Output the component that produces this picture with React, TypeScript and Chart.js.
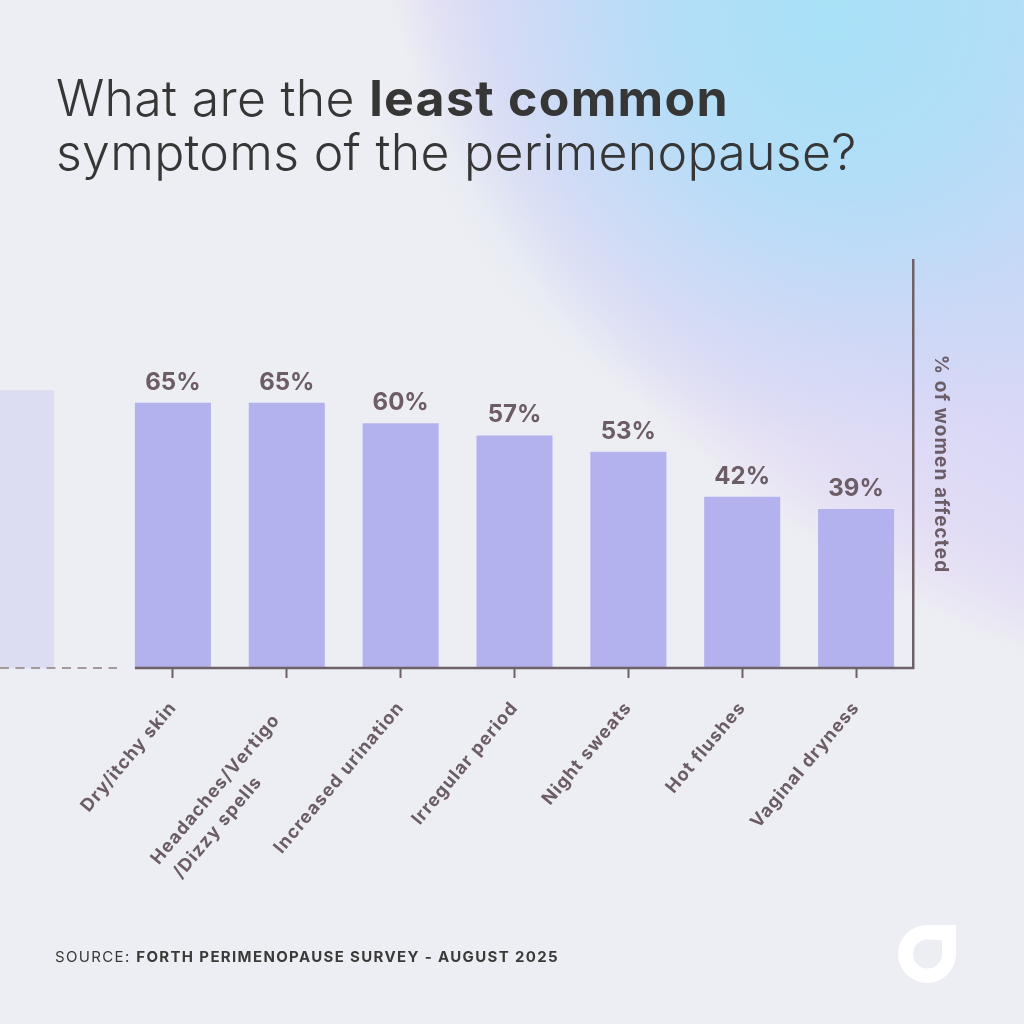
import React, { useEffect, useRef } from "react";
import { Chart, registerables } from "chart.js";

Chart.register(...registerables);

// ---- data ----
const categories: (string | string[])[] = [
  "Dry/itchy skin",
  ["Headaches/Vertigo   ", "/Dizzy spells              "],
  "Increased urination",
  "Irregular period",
  "Night sweats",
  "Hot flushes",
  "Vaginal dryness",
];
const values = [65, 65, 60, 57, 53, 42, 39];
const valueLabels = ["65%", "65%", "60%", "57%", "53%", "42%", "39%"];
// bar from the previous slide, partly visible at the left edge (position in category units)
const previousBarPosition = [-1.38];
const previousBarValue = [68];
const yMin = 0;
const yMax = 100;
const axisTitle = "% of women affected";

const TEXT = "#6b5c65";
const AXIS = "#6e6268";
const FONT = "Inter, 'Open Sans', sans-serif";

const spacingPlugin = {
  id: "spacing",
  beforeDraw(chart: any) {
    (chart.ctx as any).letterSpacing = "1.1px";
  },
};

const decorPlugin = {
  id: "decor",
  afterDatasetsDraw(chart: any) {
    const ctx = chart.ctx;
    const { chartArea } = chart;
    const y0 = chart.scales.y.getPixelForValue(0);
    const meta = chart.getDatasetMeta(0);
    const first = meta.data[0];
    ctx.save();
    (ctx as any).letterSpacing = "0px";
    // solid baseline
    ctx.strokeStyle = AXIS;
    ctx.lineWidth = 2.5;
    ctx.beginPath();
    ctx.moveTo(first.x - first.width / 2, y0);
    ctx.lineTo(chartArea.right + 1, y0);
    ctx.stroke();
    // dashed continuation to the left
    ctx.strokeStyle = "#a39aa0";
    ctx.lineWidth = 2;
    ctx.setLineDash([9, 6.5]);
    ctx.beginPath();
    ctx.moveTo(0, y0);
    ctx.lineTo(chartArea.left + 1, y0);
    ctx.stroke();
    ctx.setLineDash([]);
    // value labels
    ctx.fillStyle = TEXT;
    ctx.font = `700 24px ${FONT}`;
    ctx.textAlign = "center";
    ctx.textBaseline = "alphabetic";
    meta.data.forEach((bar: any, i: number) => {
      ctx.fillText(valueLabels[i], bar.x, bar.y - 13);
    });
    ctx.restore();
  },
};

function BarChart() {
  const ref = useRef<HTMLCanvasElement | null>(null);
  useEffect(() => {
    if (!ref.current) return;
    const chart = new Chart(ref.current, {
      type: "bar",
      data: {
        labels: categories as any,
        datasets: [
          {
            label: axisTitle,
            data: values,
            backgroundColor: "#b4b2ee",
            borderWidth: 0,
            barPercentage: 0.668,
            categoryPercentage: 1,
            grouped: false,
            xAxisID: "x",
            yAxisID: "y",
          },
          {
            label: "previous",
            data: previousBarPosition.map((x, i) => ({ x, y: previousBarValue[i] })) as any,
            backgroundColor: "#dcdcf2",
            borderWidth: 0,
            barThickness: 76,
            grouped: false,
            xAxisID: "xPrev",
            yAxisID: "y",
            clip: false as any,
          },
        ],
      },
      options: {
        responsive: false,
        animation: false,
        layout: { padding: { left: 116, top: 260, right: 0, bottom: 0 } },
        plugins: { legend: { display: false }, tooltip: { enabled: false }, title: { display: false } },
        scales: {
          x: {
            type: "category",
            offset: true,
            grid: {
              display: true,
              drawOnChartArea: false,
              drawTicks: true,
              tickLength: 10,
              tickWidth: 2,
              tickColor: AXIS,
              offset: false,
            },
            border: { display: false },
            ticks: {
              autoSkip: false,
              maxRotation: 50,
              minRotation: 50,
              padding: 18,
              color: TEXT,
              font: { family: FONT, size: 18, weight: "700" as any, lineHeight: 1.45 },
            },
            afterFit: (s: any) => {
              s.height = 1024 - 668;
            },
          },
          xPrev: {
            type: "linear",
            display: false,
            offset: false,
            min: -0.5,
            max: 6.5,
          },
          y: {
            position: "right",
            min: yMin,
            max: yMax,
            grid: { display: false },
            ticks: { display: false },
            border: { display: true, color: AXIS, width: 2.5 },
            title: {
              display: true,
              text: axisTitle,
              color: TEXT,
              font: { family: FONT, size: 19, weight: "700" as any },
              padding: { top: 72, bottom: 4 },
            },
            afterFit: (s: any) => {
              s.width = 1024 - 913;
            },
          },
        },
      },
      plugins: [spacingPlugin, decorPlugin],
    });
    return () => chart.destroy();
  }, []);
  return <canvas ref={ref} width={1024} height={1024} style={{ position: "absolute", left: 0, top: 0 }} />;
}

export default function App() {
  return (
    <div
      style={{
        position: "absolute",
        left: 0,
        top: 0,
        width: 1024,
        height: 1024,
        overflow: "hidden",
        backgroundColor: "#edeef3",
        backgroundImage: [
          "radial-gradient(circle 430px at 830px 20px, rgba(166,226,248,0.95) 0%, rgba(170,223,248,0.75) 40%, rgba(188,216,246,0.35) 75%, rgba(200,212,246,0) 100%)",
          "radial-gradient(circle 1100px at 1420px -368px, #c4e2f7 0%, #c9daf6 55%, #d0d8f6 70%, #dad8f6 82%, #e2ddf5 92%, #e7e3f4 96%, rgba(237,238,243,0) 100%)",
        ].join(", "),
        fontFamily: FONT,
      }}
    >
      <div
        style={{
          position: "absolute",
          left: 56,
          top: 71,
          fontSize: 50,
          lineHeight: "54px",
          fontWeight: 300,
          color: "#363636",
          letterSpacing: "0.3px",
          whiteSpace: "nowrap",
        }}
      >
        What are the <span style={{ fontWeight: 700, letterSpacing: "1.3px" }}>least common</span>
        <br />
        symptoms of the perimenopause?
      </div>
      <BarChart />
      <div
        style={{
          position: "absolute",
          left: 55,
          top: 947,
          fontSize: 15,
          letterSpacing: "1.35px",
          color: "#3a3a3a",
          whiteSpace: "nowrap",
        }}
      >
        SOURCE: <span style={{ fontWeight: 700 }}>FORTH PERIMENOPAUSE SURVEY - AUGUST 2025</span>
      </div>
      <svg
        width={58}
        height={58}
        viewBox="0 0 58 58"
        style={{ position: "absolute", left: 898, top: 925 }}
      >
        <path
          fill="#ffffff"
          fillRule="evenodd"
          d="M58,0 L58,29 A29,29 0 1 1 29,0 Z M44,15 L44,29 A14.5,14.5 0 1 1 29.5,14.5 Z"
        />
      </svg>
    </div>
  );
}
